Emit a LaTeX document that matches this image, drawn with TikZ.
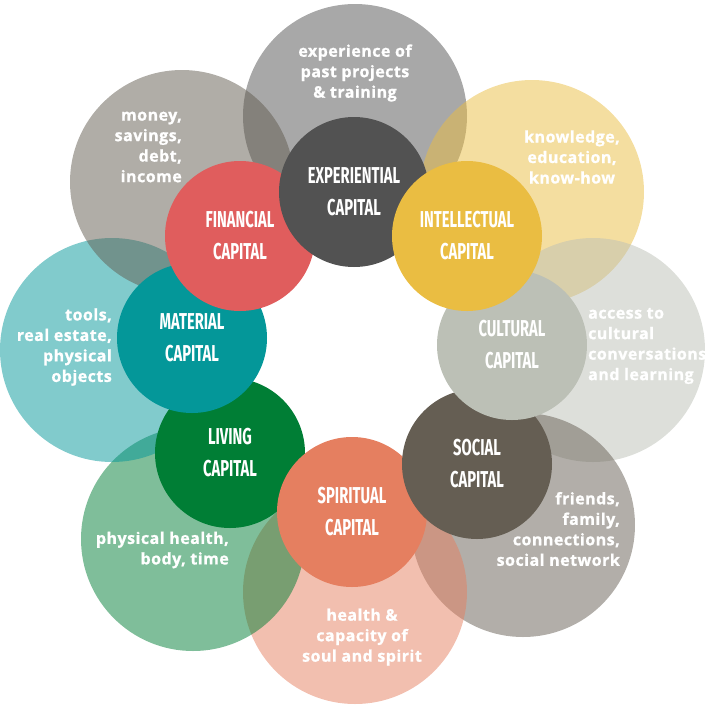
\documentclass[tikz,border=0pt]{standalone}
\usepackage{fontspec}
\newfontfamily\descfont[LetterSpace=3, BoldFeatures={FakeBold=1}]{Open Sans}
\newfontfamily\capfont[FakeStretch=0.64]{Fira Sans}
\definecolor{expcol}{HTML}{525252}
\definecolor{fincol}{HTML}{E05D5D}
\definecolor{moneycol}{HTML}{615B4F}
\definecolor{intcol}{HTML}{EABD42}
\definecolor{cultcol}{HTML}{BCC0B6}
\definecolor{soccol}{HTML}{655E53}
\definecolor{spircol}{HTML}{E57F60}
\definecolor{livcol}{HTML}{007E35}
\definecolor{matcol}{HTML}{049799}

\begin{document}
\begin{tikzpicture}[x=1pt, y=-1pt,
    outer/.style={circle, minimum size=224pt, inner sep=0pt, fill opacity=0.5},
    inner/.style={circle, minimum size=150pt, inner sep=0pt, align=center, text=white,
                  font=\capfont\bfseries\fontsize{23}{32}\selectfont},
    desc/.style={text=white, inner sep=0pt, font=\descfont\bfseries\fontsize{16}{20.5}\selectfont}]
  \useasboundingbox (0,0) rectangle (705,705);

  \node[outer, fill=expcol]    (expout)  at (355,116) {};
  \node[outer, fill=intcol]    (intout)  at (532,192) {};
  \node[outer, fill=cultcol]   (cultout) at (593,350) {};
  \node[outer, fill=soccol]    (socout)  at (523,525) {};
  \node[outer, fill=spircol]   (spirout) at (355,592) {};
  \node[outer, fill=livcol]    (livout)  at (193,539) {};
  \node[outer, fill=matcol]    (matout)  at (112,350) {};
  \node[outer, fill=moneycol]  (finout)  at (182,182) {};

  \node[inner, fill=livcol]    (liv)  at (230,453) {LIVING\\CAPITAL};
  \node[inner, fill=matcol]    (mat)  at (192,338) {MATERIAL\\CAPITAL};
  \node[inner, fill=spircol]   (spir) at (352,512) {SPIRITUAL\\CAPITAL};
  \node[inner, fill=soccol]    (soc)  at (477,464) {SOCIAL\\CAPITAL};
  \node[inner, fill=fincol]    (fin)  at (240,236) {FINANCIAL\\CAPITAL};
  \node[inner, fill=cultcol]   (cult) at (512,345) {CULTURAL\\CAPITAL};
  \node[inner, fill=expcol]    (exp)  at (354,192) {EXPERIENTIAL\\CAPITAL};
  \node[inner, fill=intcol]    (int)  at (467,236) {INTELLECTUAL\\CAPITAL};

  \node[desc, align=center]             (exptext)  at (355,73)  {experience of\\past projects\\\& training};
  \node[desc, align=right, anchor=east] (fintext)  at (182,147) {money,\\savings,\\debt,\\income};
  \node[desc, align=center]             (inttext)  at (572,157) {knowledge,\\education,\\know-how};
  \node[desc, align=left, anchor=west]  (culttext) at (588,346) {access to\\cultural\\conversations\\and learning};
  \node[desc, align=right, anchor=east] (soctext)  at (620,529) {friends,\\family,\\connections,\\social network};
  \node[desc, align=center]             (spirtext) at (362,637) {health \&\\capacity of\\soul and spirit};
  \node[desc, align=right, anchor=east] (livtext)  at (229,550) {physical health,\\body, time};
  \node[desc, align=right, anchor=east] (mattext)  at (112,347) {tools,\\real estate,\\physical\\objects};
\end{tikzpicture}
\end{document}
